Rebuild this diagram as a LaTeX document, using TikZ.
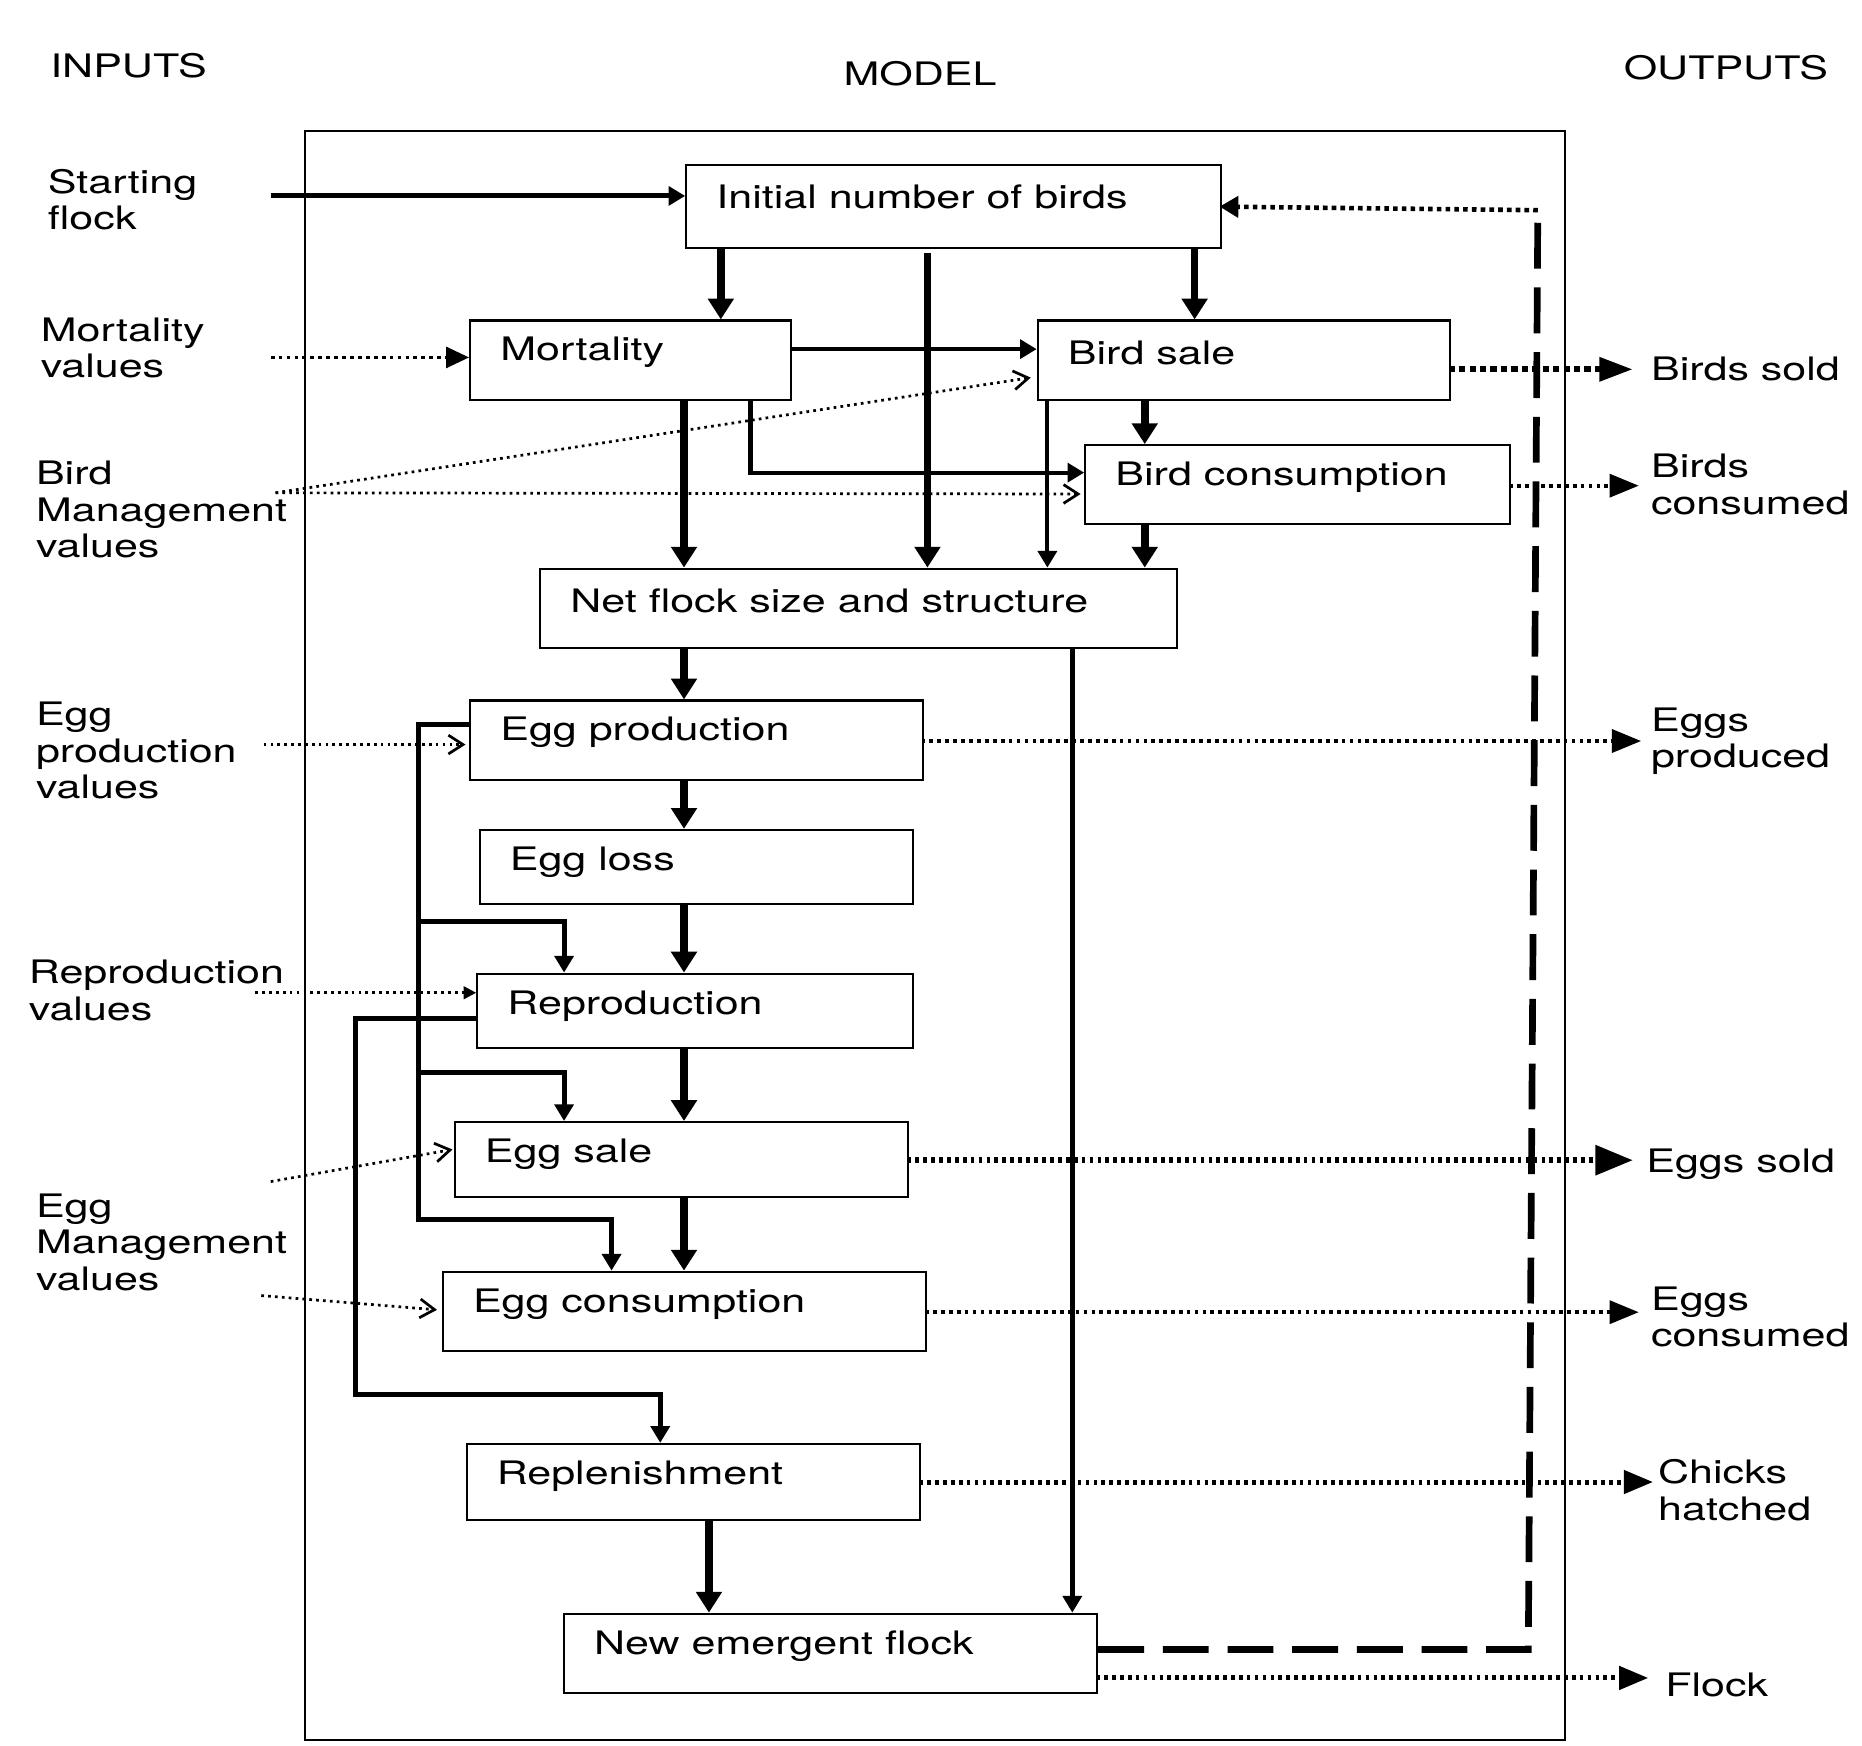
\documentclass[tikz,border=0pt]{standalone}
\usepackage{fontspec}
\setmainfont{TeX Gyre Heros}[FakeStretch=1.33]
\usetikzlibrary{arrows.meta}
\tikzset{
  box/.style={draw, line width=1pt, inner sep=0pt},
  lbl/.style={inner sep=0pt, align=left, font=\fontsize{15.5}{17.5}\selectfont},
  thick arr/.style={line width=3.6pt, -{Triangle[length=10pt,width=12pt]}},
  mid arr/.style={line width=2pt, -{Triangle[length=8pt,width=9pt]}},
  dot arr/.style={line width=1.8pt, dotted, -{Triangle[length=14pt,width=11pt]}},
  open arr/.style={line width=1.3pt, dotted, -{Straight Barb[length=7pt,width=9pt]}},
}
% box from corners, label near top left
\newcommand\bx[6]{%
  \node[box,anchor=north west,minimum width={(#4-#2)*0.02cm},minimum height={(#5-#3)*0.02cm}] (#1) at (#2,#3) {};
  \node[lbl,anchor=west] (#1-t) at ([xshift=0.52cm,yshift=-0.56cm]#1.north west) {#6};}
\begin{document}
\begin{tikzpicture}[x=0.02cm,y=-0.02cm]
\useasboundingbox (0,0) rectangle (1568,1470);
\draw[line width=1pt] (257,110) rectangle (1318,1465);

\node[lbl,anchor=west] (inp) at (42,55) {INPUTS};
\node[lbl,anchor=west] (mod) at (710,62) {MODEL};
\node[lbl,anchor=west] (outp) at (1367,57) {OUTPUTS};

% model boxes
\bx{init}{577}{138}{1027}{208}{Initial number of birds}
\bx{mort}{395}{269}{665}{336}{Mortality}
\bx{bsale}{873}{269}{1220}{336}{Bird sale}
\bx{bcons}{913}{374}{1271}{440}{Bird consumption}
\bx{net}{454}{478}{990}{545}{Net flock size and structure}
\bx{eprod}{395}{589}{776}{656}{Egg production}
\bx{eloss}{403}{698}{768}{760}{Egg loss}
\bx{repro}{401}{819}{768}{882}{Reproduction}
\bx{esale}{382}{944}{764}{1007}{Egg sale}
\bx{econs}{372}{1070}{779}{1137}{Egg consumption}
\bx{repl}{392}{1215}{774}{1279}{Replenishment}
\bx{newf}{474}{1358}{923}{1425}{New emergent flock}

% inputs
\node[lbl,anchor=north west] (i1) at (40,142) {Starting\\flock};
\node[lbl,anchor=north west] (i2) at (34,267) {Mortality\\values};
\node[lbl,anchor=north west] (i3) at (30,388) {Bird\\Management\\values};
\node[lbl,anchor=north west] (i4) at (30,591) {Egg\\production\\values};
\node[lbl,anchor=north west] (i5) at (24,808) {Reproduction\\values};
\node[lbl,anchor=north west] (i6) at (30,1005) {Egg\\Management\\values};

% outputs
\node[lbl,anchor=west] (o1) at (1390,311) {Birds sold};
\node[lbl,anchor=west] (o2) at (1390,408) {Birds\\consumed};
\node[lbl,anchor=west] (o3) at (1390,624) {Eggs\\produced};
\node[lbl,anchor=west] (o4) at (1386,980) {Eggs sold};
\node[lbl,anchor=west] (o5) at (1390,1109) {Eggs\\consumed};
\node[lbl,anchor=west] (o6) at (1396,1255) {Chicks\\hatched};
\node[lbl,anchor=west] (o7) at (1402,1419) {Flock};

% input arrows
\coordinate (a1) at (228,165);
\coordinate (a2) at (228,301);
\coordinate (a3) at (232,415);
\coordinate (a4) at (222,627);
\coordinate (a5) at (215,836);
\coordinate (a6) at (228,995);
\coordinate (a7) at (220,1091);
\draw[mid arr,line width=2.4pt] (a1) -- (init.west |- a1);
\draw[dot arr,line width=1.5pt,-{Triangle[length=11pt,width=10pt]}] (a2) -- (mort.west |- a2);
\draw[open arr] (a3) -- (868,318);
\draw[open arr] (a3) -- (910,416);
\draw[open arr] (a4) -- (392,627);
\draw[open arr,-{Triangle[length=6pt,width=6pt]}] (a5) -- (401,836);
\draw[open arr] (a6) -- (381,968);
\draw[open arr] (a7) -- (368,1103);

% main flow
\draw[thick arr] (607,208) -- (607,269);
\draw[thick arr] (781,213) -- (781,478);
\draw[thick arr] (1006,208) -- (1006,269);
\draw[mid arr] (665,294) -- (873,294);
\draw[thick arr] (576,336) -- (576,478);
\draw[mid arr] (632,336) -- (632,398) -- (913,398);
\draw[mid arr] (882,336) -- (882,478);
\draw[thick arr] (964,336) -- (964,374);
\draw[thick arr] (964,440) -- (964,478);
\draw[thick arr] (576,545) -- (576,589);
\draw[thick arr] (576,656) -- (576,698);
\draw[thick arr] (576,760) -- (576,819);
\draw[thick arr] (576,882) -- (576,944);
\draw[thick arr] (576,1007) -- (576,1070);
\draw[thick arr] (597,1279) -- (597,1358);
\draw[mid arr,line width=2.4pt] (903,545) -- (903,1358);

% egg bypass lines
\draw[mid arr,line width=2.4pt] (395,610) -- (352,610) -- (352,1027) -- (515,1027) -- (515,1070);
\draw[mid arr,line width=2.4pt] (352,776) -- (475,776) -- (475,819);
\draw[mid arr,line width=2.4pt] (352,903) -- (475,903) -- (475,944);
\draw[mid arr,line width=2.4pt] (401,858) -- (299,858) -- (299,1174) -- (556,1174) -- (556,1215);

% feedback
\draw[line width=3.2pt,dash pattern=on 22pt off 9pt] (newf.east |- 0,1389) -- (1287,1389) -- (1295,177);
\draw[line width=2.2pt,dotted,-{Triangle[length=9pt,width=10pt]}] (1295,177) -- (1027,174);

% output arrows
\draw[line width=3pt,densely dashed,-{Triangle[length=16pt,width=11pt]}] (1220,311) -- (1375,311);
\draw[dot arr] (1271,409) -- (1380,409);
\draw[dot arr] (776,624) -- (1382,624);
\draw[dot arr,line width=2.8pt,-{Triangle[length=18pt,width=14pt]}] (764,977) -- (1375,977);
\draw[dot arr] (779,1105) -- (1380,1105);
\draw[dot arr,line width=2.4pt] (774,1248) -- (1392,1248);
\draw[dot arr,line width=2.4pt] (923,1413) -- (1388,1413);
\end{tikzpicture}
\end{document}
